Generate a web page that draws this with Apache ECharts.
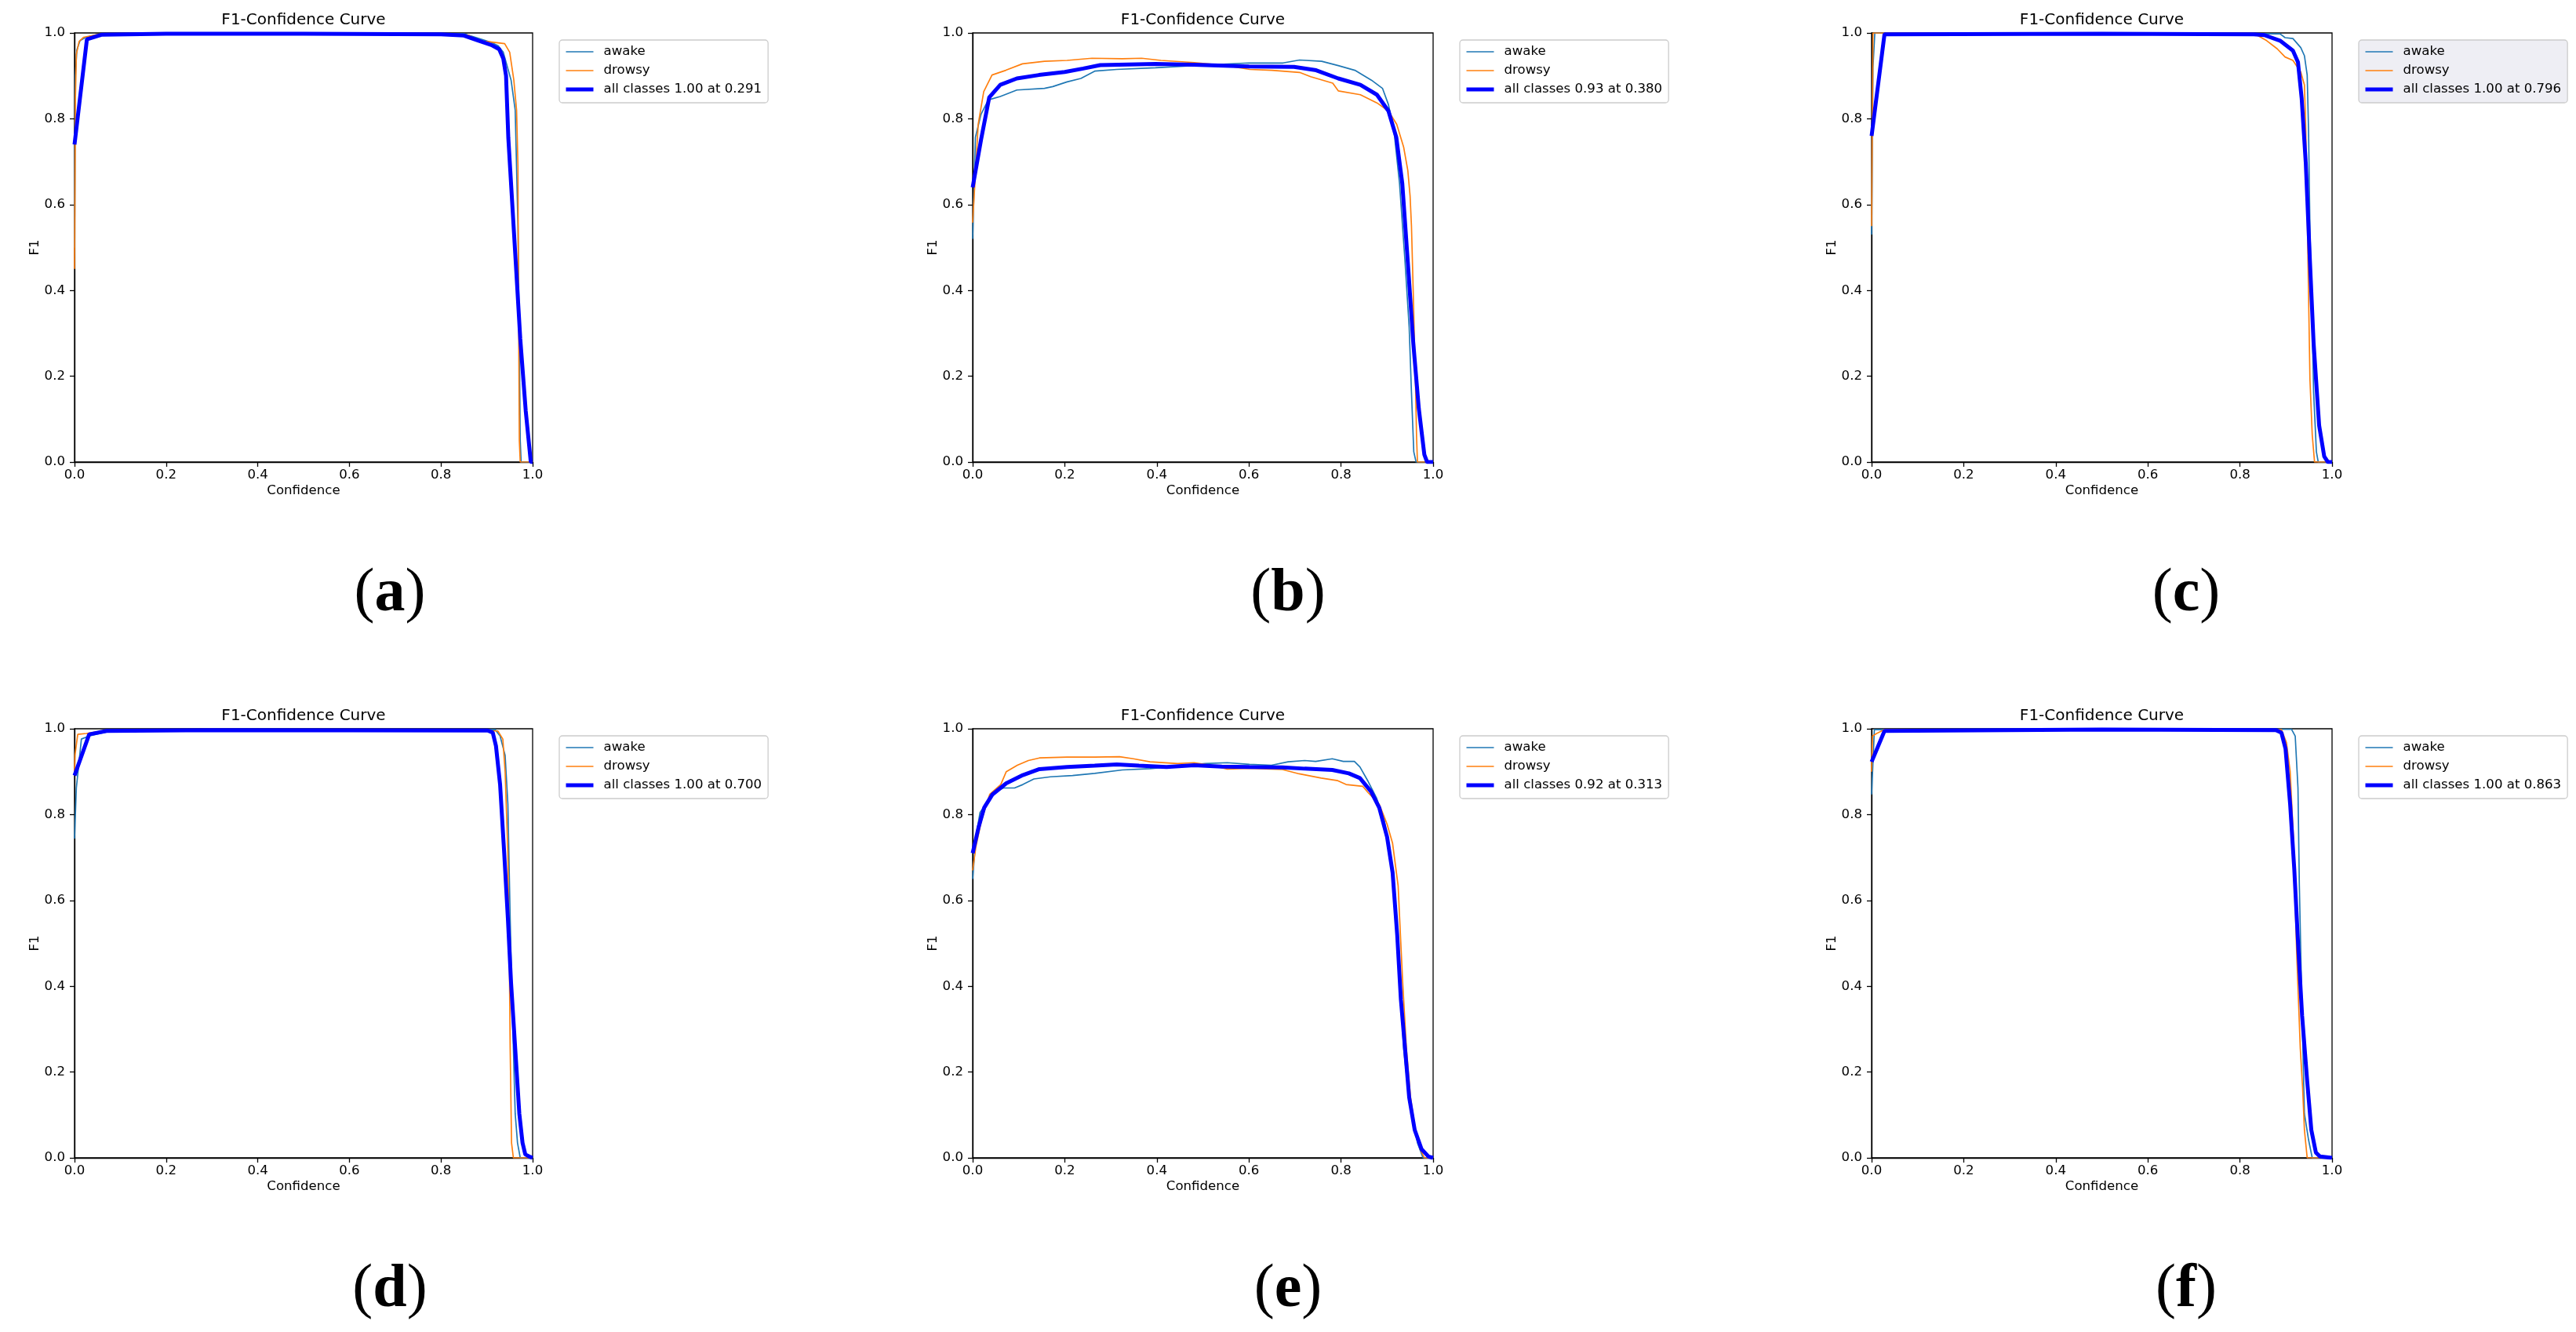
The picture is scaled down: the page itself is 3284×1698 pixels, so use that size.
<!DOCTYPE html>
<html><head><meta charset="utf-8">
<script src="https://cdn.jsdelivr.net/npm/echarts@6/dist/echarts.min.js"></script>
<style>html,body{margin:0;padding:0;background:#fff}#c{width:3284px;height:1698px}</style>
</head><body><div id="c"></div>
<script>
// ---------- data ----------
const tickLabels = ['0.0','0.2','0.4','0.6','0.8','1.0'];
const seriesNames = ['awake','drowsy'];
const allNames = ['all classes 1.00 at 0.291','all classes 0.93 at 0.380','all classes 1.00 at 0.796',
                  'all classes 1.00 at 0.700','all classes 0.92 at 0.313','all classes 1.00 at 0.863'];
const panelLetters = ['a','b','c','d','e','f'];

const A_awake = [[0,0.5],[0.002,0.9],[0.005,0.96],[0.012,0.982],[0.025,0.99],[0.05,0.996],[0.1,0.998],[0.3,0.999],[0.6,0.999],[0.85,0.998],[0.88,0.988],[0.91,0.978],[0.925,0.97],[0.936,0.955],[0.953,0.89],[0.962,0.82],[0.968,0.55],[0.971,0.29],[0.973,0.05],[0.975,0],[1,0]];
const A_drowsy = [[0,0.45],[0.002,0.85],[0.004,0.95],[0.01,0.98],[0.02,0.99],[0.05,0.996],[0.1,0.998],[0.3,0.999],[0.6,0.999],[0.86,0.995],[0.875,0.985],[0.885,0.98],[0.9,0.98],[0.939,0.975],[0.95,0.955],[0.959,0.89],[0.965,0.82],[0.968,0.69],[0.969,0.42],[0.971,0.05],[0.973,0],[1,0]];
const A_all = [[0,0.74],[0.027,0.985],[0.06,0.996],[0.2,0.998],[0.5,0.998],[0.8,0.997],[0.85,0.994],[0.882,0.982],[0.91,0.972],[0.927,0.962],[0.936,0.94],[0.942,0.9],[0.947,0.755],[0.962,0.487],[0.973,0.288],[0.985,0.119],[0.996,0],[1,0]];

const B_awake = [[0,0.52],[0.006,0.757],[0.018,0.81],[0.034,0.844],[0.06,0.852],[0.096,0.867],[0.156,0.871],[0.174,0.875],[0.205,0.886],[0.235,0.894],[0.265,0.911],[0.313,0.915],[0.397,0.919],[0.481,0.924],[0.6,0.93],[0.674,0.93],[0.71,0.937],[0.758,0.934],[0.794,0.924],[0.83,0.913],[0.866,0.89],[0.89,0.871],[0.903,0.833],[0.915,0.772],[0.927,0.65],[0.939,0.467],[0.948,0.314],[0.953,0.162],[0.958,0.024],[0.963,0],[1,0]];
const B_drowsy = [[0,0.558],[0.012,0.787],[0.024,0.863],[0.042,0.902],[0.072,0.913],[0.108,0.928],[0.156,0.934],[0.205,0.936],[0.259,0.941],[0.325,0.94],[0.367,0.941],[0.409,0.936],[0.481,0.931],[0.542,0.925],[0.602,0.915],[0.65,0.913],[0.71,0.908],[0.734,0.898],[0.782,0.883],[0.794,0.865],[0.842,0.856],[0.878,0.837],[0.903,0.818],[0.921,0.787],[0.936,0.734],[0.945,0.68],[0.95,0.62],[0.953,0.55],[0.956,0.43],[0.959,0.3],[0.962,0.17],[0.964,0.06],[0.966,0],[1,0]];
const B_all = [[0,0.64],[0.018,0.75],[0.036,0.85],[0.06,0.879],[0.096,0.894],[0.144,0.902],[0.2,0.909],[0.24,0.917],[0.277,0.925],[0.397,0.928],[0.48,0.926],[0.6,0.922],[0.698,0.921],[0.746,0.913],[0.794,0.894],[0.842,0.879],[0.878,0.856],[0.903,0.818],[0.92,0.757],[0.933,0.65],[0.945,0.467],[0.957,0.276],[0.969,0.124],[0.981,0.017],[0.987,0],[1,0]];

const C_awake = [[0,0.53],[0.003,0.92],[0.007,1.0],[0.5,1.0],[0.887,0.998],[0.898,0.989],[0.915,0.987],[0.932,0.966],[0.94,0.947],[0.946,0.902],[0.949,0.772],[0.952,0.543],[0.957,0.314],[0.96,0.162],[0.966,0.024],[0.97,0],[1,0]];
const C_drowsy = [[0,0.55],[0.003,1.0],[0.5,1.0],[0.83,0.999],[0.858,0.982],[0.881,0.963],[0.898,0.944],[0.915,0.936],[0.932,0.909],[0.94,0.879],[0.943,0.772],[0.949,0.39],[0.952,0.192],[0.957,0.063],[0.962,0],[1,0]];
const C_all = [[0,0.76],[0.028,0.997],[0.5,0.998],[0.83,0.997],[0.853,0.995],[0.887,0.982],[0.915,0.959],[0.926,0.932],[0.934,0.848],[0.943,0.696],[0.952,0.467],[0.96,0.276],[0.972,0.085],[0.983,0.013],[0.991,0],[1,0]];

const D_awake = [[0,0.744],[0.004,0.862],[0.015,0.976],[0.032,0.983],[0.08,0.995],[0.3,0.999],[0.918,0.998],[0.929,0.983],[0.94,0.938],[0.946,0.824],[0.951,0.558],[0.956,0.331],[0.962,0.103],[0.967,0.035],[0.973,0],[1,0]];
const D_drowsy = [[0,0.9],[0.001,0.938],[0.007,0.987],[0.026,0.989],[0.06,0.995],[0.3,0.999],[0.924,0.995],[0.935,0.976],[0.94,0.9],[0.946,0.71],[0.949,0.483],[0.951,0.255],[0.954,0.035],[0.958,0],[1,0]];
const D_all = [[0,0.891],[0.032,0.987],[0.07,0.995],[0.3,0.997],[0.902,0.996],[0.913,0.991],[0.92,0.96],[0.929,0.87],[0.938,0.71],[0.946,0.558],[0.953,0.407],[0.962,0.255],[0.971,0.103],[0.978,0.035],[0.984,0.008],[0.995,0.002],[1,0]];

const E_awake = [[0,0.65],[0.007,0.748],[0.016,0.805],[0.031,0.828],[0.049,0.854],[0.067,0.862],[0.091,0.862],[0.109,0.87],[0.133,0.883],[0.169,0.888],[0.217,0.891],[0.265,0.896],[0.325,0.904],[0.385,0.907],[0.445,0.913],[0.505,0.919],[0.553,0.921],[0.601,0.917],[0.649,0.915],[0.685,0.923],[0.721,0.926],[0.745,0.924],[0.781,0.93],[0.805,0.924],[0.829,0.924],[0.841,0.911],[0.859,0.877],[0.877,0.839],[0.894,0.786],[0.906,0.71],[0.918,0.596],[0.93,0.369],[0.936,0.255],[0.942,0.194],[0.954,0.103],[0.966,0.035],[0.978,0],[1,0]];
const E_drowsy = [[0,0.67],[0.007,0.725],[0.019,0.786],[0.037,0.847],[0.061,0.87],[0.073,0.9],[0.097,0.915],[0.121,0.926],[0.145,0.932],[0.205,0.934],[0.265,0.934],[0.319,0.935],[0.349,0.93],[0.385,0.923],[0.445,0.919],[0.481,0.921],[0.517,0.915],[0.553,0.906],[0.601,0.908],[0.673,0.905],[0.709,0.895],[0.757,0.885],[0.793,0.879],[0.811,0.87],[0.847,0.866],[0.859,0.851],[0.883,0.824],[0.9,0.778],[0.912,0.733],[0.924,0.634],[0.934,0.407],[0.942,0.255],[0.951,0.141],[0.96,0.073],[0.972,0.02],[0.981,0],[1,0]];
const E_all = [[0,0.71],[0.013,0.771],[0.025,0.816],[0.043,0.847],[0.073,0.873],[0.109,0.892],[0.145,0.906],[0.205,0.911],[0.265,0.914],[0.313,0.917],[0.361,0.914],[0.421,0.911],[0.481,0.915],[0.541,0.912],[0.601,0.911],[0.673,0.91],[0.721,0.907],[0.781,0.904],[0.817,0.896],[0.841,0.885],[0.865,0.854],[0.883,0.816],[0.9,0.748],[0.912,0.665],[0.922,0.52],[0.93,0.369],[0.939,0.255],[0.948,0.141],[0.96,0.065],[0.975,0.02],[0.99,0.003],[1,0]];

const F_awake = [[0,0.847],[0.006,0.998],[0.5,1.0],[0.912,0.999],[0.92,0.983],[0.926,0.862],[0.929,0.634],[0.935,0.331],[0.94,0.103],[0.949,0.042],[0.957,0],[1,0]];
const F_drowsy = [[0,0.9],[0.002,0.983],[0.011,0.989],[0.028,0.998],[0.5,0.999],[0.89,0.998],[0.901,0.968],[0.909,0.9],[0.916,0.748],[0.923,0.483],[0.931,0.255],[0.936,0.164],[0.94,0.065],[0.946,0],[1,0]];
const F_all = [[0,0.923],[0.028,0.995],[0.5,0.998],[0.878,0.997],[0.89,0.991],[0.899,0.953],[0.909,0.824],[0.918,0.672],[0.927,0.483],[0.935,0.331],[0.946,0.179],[0.955,0.065],[0.965,0.012],[0.974,0.003],[1,0]];

const panels = [
  [A_awake, A_drowsy, A_all],
  [B_awake, B_drowsy, B_all],
  [C_awake, C_drowsy, C_all],
  [D_awake, D_drowsy, D_all],
  [E_awake, E_drowsy, E_all],
  [F_awake, F_drowsy, F_all]
];

// ---------- layout ----------
const FONT = 'DejaVu Sans';
const FS = 16.6;
const gridLeft = [95, 1240, 2386, 95, 1240, 2386];
const gridWidth = [584, 587, 587, 584, 587, 587];
const gridTop = [42, 42, 42, 929, 929, 929];
const gridHeight = 547;
const labelCenterX = [497, 1642, 2787, 497, 1642, 2787];
const labelCenterY = [758, 758, 758, 1645, 1645, 1645];
const legendBg = ['rgba(255,255,255,0.8)','rgba(255,255,255,0.8)','#eeeef4','rgba(255,255,255,0.8)','rgba(255,255,255,0.8)','rgba(255,255,255,0.8)'];
const colors = ['#1f77b4', '#ff7f0e', '#0000ff'];
const widths = [1.67, 1.67, 5];

const grids = [], xAxes = [], yAxes = [], series = [], titles = [], legends = [];
for (let i = 0; i < 6; i++) {
  grids.push({left: gridLeft[i], top: gridTop[i], width: gridWidth[i], height: gridHeight,
    show: true, borderColor: '#000', borderWidth: 1.3, backgroundColor: 'transparent', containLabel: false});
  const axisCommon = {
    type: 'value', gridIndex: i, min: 0, max: 1, interval: 0.2,
    axisLine: {show: true, onZero: false, lineStyle: {color: '#000', width: 1.3}},
    axisTick: {show: true, inside: false, length: 6, lineStyle: {color: '#000', width: 1.3}},
    splitLine: {show: false},
    axisLabel: {color: '#000', fontFamily: FONT, fontSize: FS,
      formatter: v => tickLabels[Math.round(v / 0.2)]},
    nameLocation: 'middle',
    nameTextStyle: {color: '#000', fontFamily: FONT, fontSize: FS}
  };
  xAxes.push(Object.assign({}, axisCommon, {name: 'Confidence', nameGap: 28,
    axisLabel: Object.assign({}, axisCommon.axisLabel, {margin: 8})}));
  yAxes.push(Object.assign({}, axisCommon, {name: 'F1', nameGap: 42,
    axisLabel: Object.assign({}, axisCommon.axisLabel, {margin: 12})}));
  const names = [seriesNames[0], seriesNames[1], allNames[i]];
  for (let k = 0; k < 3; k++) {
    series.push({type: 'line', name: names[k], xAxisIndex: i, yAxisIndex: i,
      data: panels[i][k], symbol: 'none', showSymbol: false, smooth: false,
      lineStyle: {color: colors[k], width: widths[k]}, itemStyle: {color: colors[k]},
      z: 2 + k, animation: false});
  }
  titles.push({text: 'F1-Confidence Curve', left: gridLeft[i] + gridWidth[i] / 2, top: gridTop[i] - 26,
    textAlign: 'center', padding: 0,
    textStyle: {fontFamily: FONT, fontSize: 20, fontWeight: 'normal', color: '#000'}});
  titles.push({text: '{p|(}{b|' + panelLetters[i] + '}{p|)}', left: labelCenterX[i], top: labelCenterY[i] - 45,
    textAlign: 'center', padding: 0,
    textStyle: {rich: {
      p: {fontFamily: 'Liberation Serif', fontSize: 78, fontWeight: 'normal', color: '#000', lineHeight: 90},
      b: {fontFamily: 'Liberation Serif', fontSize: 78, fontWeight: 'bold', color: '#000', lineHeight: 90}
    }}});
  legends.push({
    data: names.map((n, k) => ({name: n, lineStyle: {color: colors[k], width: widths[k], opacity: 1}})),
    orient: 'vertical', left: gridLeft[i] + gridWidth[i] + 34, top: gridTop[i] + 9,
    itemWidth: 35, itemHeight: 14, itemGap: 6, padding: [6, 8, 8, 6],
    backgroundColor: legendBg[i], borderColor: '#cccccc', borderWidth: 1.3, borderRadius: 4,
    selectedMode: false,
    itemStyle: {opacity: 0},
    textStyle: {fontFamily: FONT, fontSize: FS, lineHeight: 18, color: '#000', padding: [0, 0, 0, 8]}});
}

const chart = echarts.init(document.getElementById('c'), null, {renderer: 'canvas'});
chart.setOption({
  backgroundColor: '#ffffff',
  animation: false,
  title: titles,
  legend: legends,
  grid: grids,
  xAxis: xAxes,
  yAxis: yAxes,
  series: series
});
</script></body></html>
